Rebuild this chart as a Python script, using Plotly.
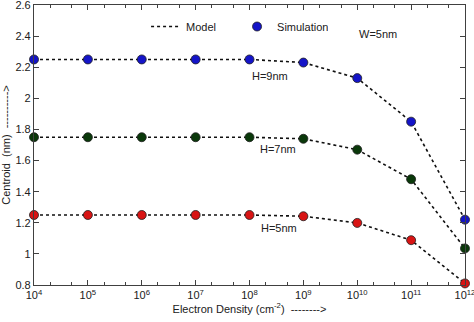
import plotly.graph_objects as go

density = [1e4, 1e5, 1e6, 1e7, 1e8, 1e9, 1e10, 1e11, 1e12]
h9 = [2.25, 2.25, 2.25, 2.25, 2.25, 2.23, 2.13, 1.85, 1.22]
h7 = [1.75, 1.75, 1.75, 1.75, 1.75, 1.74, 1.67, 1.48, 1.035]
h5 = [1.25, 1.25, 1.25, 1.25, 1.25, 1.242, 1.199, 1.088, 0.81]
series_names = ["H=9nm", "H=7nm", "H=5nm"]
colors = ["#1414c8", "#0a380a", "#d81414"]
x_tickvals = [1e4, 1e5, 1e6, 1e7, 1e8, 1e9, 1e10, 1e11, 1e12]
x_ticktext = ["10<sup>%d</sup>" % e for e in range(4, 13)]
y_tickvals = [0.8, 1.0, 1.2, 1.4, 1.6, 1.8, 2.0, 2.2, 2.4, 2.6]
y_ticktext = ["0.8", "1", "1.2", "1.4", "1.6", "1.8", "2", "2.2", "2.4", "2.6"]

fig = go.Figure()
for ys, col, nm in zip([h9, h7, h5], colors, series_names):
    fig.add_trace(go.Scatter(
        x=density, y=ys, mode="lines", showlegend=False,
        line=dict(color="#101010", dash="dot", width=1.6)))
    fig.add_trace(go.Scatter(
        x=density, y=ys, mode="markers", showlegend=False, cliponaxis=False,
        marker=dict(color=col, size=9, line=dict(color="#202020", width=0.8))))

# legend entries
fig.add_trace(go.Scatter(x=[None], y=[None], mode="lines", name="Model",
                         line=dict(color="#101010", dash="dot", width=1.6)))
fig.add_trace(go.Scatter(x=[None], y=[None], mode="markers", name="Simulation",
                         marker=dict(color=colors[0], size=9, line=dict(color="#202020", width=0.8))))

font = dict(family="Liberation Sans, Arial, sans-serif", size=11, color="#202020")

fig.add_annotation(x=0.75, y=0.925, xref="paper", yref="paper", text="W=5nm",
                   showarrow=False, font=font, xanchor="left")
fig.add_annotation(x=8.0, y=2.145, text="H=9nm", showarrow=False, font=font, xanchor="left")
fig.add_annotation(x=8.15, y=1.675, text="H=7nm", showarrow=False, font=font, xanchor="left")
fig.add_annotation(x=8.17, y=1.165, text="H=5nm", showarrow=False, font=font, xanchor="left")

fig.update_layout(
    width=474, height=322,
    margin=dict(l=34, r=9, t=5, b=37, autoexpand=False),
    plot_bgcolor="white", paper_bgcolor="white",
    font=font,
    legend=dict(orientation="h", x=0.26, y=0.975, xanchor="left", yanchor="top",
                bgcolor="rgba(0,0,0,0)", font=font, itemwidth=30, entrywidth=46),
    xaxis=dict(type="log", range=[3.9999, 12.0001], tickvals=x_tickvals, ticktext=x_ticktext,
               ticklabeloverflow="allow", automargin=False,
               ticks="inside", ticklen=5, showline=True, linecolor="#404040", linewidth=1.2,
               mirror="ticks", showgrid=False, zeroline=False,
               minor=dict(ticks="inside", ticklen=3, showgrid=False, tickcolor="#404040"),
               tickcolor="#404040",
               title=dict(text="Electron Density (cm<sup>-2</sup>)  -------->", standoff=4,
                          font=font)),
    yaxis=dict(range=[0.7999, 2.6001], tickvals=y_tickvals, ticktext=y_ticktext,
               ticklabeloverflow="allow", automargin=False,
               ticks="inside", ticklen=5,
               showline=True, linecolor="#404040", linewidth=1.2, mirror="ticks",
               showgrid=False, zeroline=False, tickcolor="#404040",
               title=dict(text="Centroid  (nm)  ---------->", standoff=2, font=font)),
)

fig.write_html("out.html")
